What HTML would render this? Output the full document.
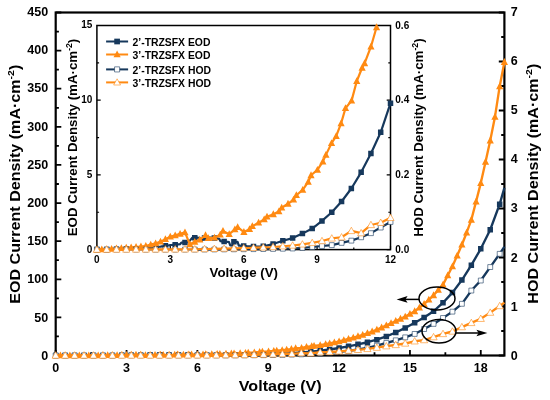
<!DOCTYPE html>
<html lang="en">
<head>
<meta charset="utf-8">
<title>Current density vs. voltage</title>
<style>html,body{margin:0;padding:0;background:#fff}svg{display:block}</style>
</head>
<body>
<svg width="550" height="400" viewBox="0 0 550 400" font-family="'Liberation Sans', Arial, sans-serif" font-weight="bold" fill="#000">
<rect width="550" height="400" fill="#fff"/>
<g id="main-axes" stroke="#000" fill="none">
<rect x="55.7" y="12.5" width="448.7" height="343" stroke-width="2.2"/>
<path d="M55.7 355.5v-5.6M91.12 355.5v-3.2M126.55 355.5v-5.6M161.97 355.5v-3.2M197.39 355.5v-5.6M232.82 355.5v-3.2M268.24 355.5v-5.6M303.67 355.5v-3.2M339.09 355.5v-5.6M374.51 355.5v-3.2M409.94 355.5v-5.6M445.36 355.5v-3.2M480.78 355.5v-5.6M55.7 355.5h5.6M55.7 336.44h3.2M55.7 317.39h5.6M55.7 298.33h3.2M55.7 279.28h5.6M55.7 260.22h3.2M55.7 241.17h5.6M55.7 222.11h3.2M55.7 203.06h5.6M55.7 184h3.2M55.7 164.94h5.6M55.7 145.89h3.2M55.7 126.83h5.6M55.7 107.78h3.2M55.7 88.72h5.6M55.7 69.67h3.2M55.7 50.61h5.6M55.7 31.56h3.2M55.7 12.5h5.6M504.4 355.5h-5.6M504.4 331h-3.2M504.4 306.5h-5.6M504.4 282h-3.2M504.4 257.5h-5.6M504.4 233h-3.2M504.4 208.5h-5.6M504.4 184h-3.2M504.4 159.5h-5.6M504.4 135h-3.2M504.4 110.5h-5.6M504.4 86h-3.2M504.4 61.5h-5.6M504.4 37h-3.2M504.4 12.5h-5.6" stroke-width="1.8"/>
</g>
<g id="main-data">
<polyline points="282.41,353.59 291.86,353.05 301.3,352.38 310.75,351.56 320.2,350.6 329.64,349.52 339.09,348.03 348.54,346.35 357.98,344.37 367.43,342.24 376.87,339.65 386.32,336.44 395.77,332.48 405.21,327.91 414.66,322.8 424.11,317.54 433.55,311.29 443,302.68 452.45,292.62 461.89,280.04 471.34,265.18 480.78,248.79 490.23,229.73 499.68,204.2 504.4,187.81" fill="none" stroke="#16385c" stroke-width="2.35" stroke-linejoin="round"/>
<path d="M52.95 352.75h5.5v5.5h-5.5zM62.4 352.74h5.5v5.5h-5.5zM71.84 352.74h5.5v5.5h-5.5zM81.29 352.73h5.5v5.5h-5.5zM90.74 352.71h5.5v5.5h-5.5zM100.18 352.69h5.5v5.5h-5.5zM109.63 352.63h5.5v5.5h-5.5zM119.07 352.56h5.5v5.5h-5.5zM128.52 352.5h5.5v5.5h-5.5zM137.97 352.39h5.5v5.5h-5.5zM147.41 352.14h5.5v5.5h-5.5zM156.86 352.15h5.5v5.5h-5.5zM166.31 352.16h5.5v5.5h-5.5zM175.75 352.33h5.5v5.5h-5.5zM185.2 352.35h5.5v5.5h-5.5zM194.64 352.57h5.5v5.5h-5.5zM204.09 352.6h5.5v5.5h-5.5zM213.54 352.58h5.5v5.5h-5.5zM222.98 352.47h5.5v5.5h-5.5zM232.43 352.3h5.5v5.5h-5.5zM241.88 352.16h5.5v5.5h-5.5zM251.32 351.93h5.5v5.5h-5.5zM260.77 351.68h5.5v5.5h-5.5zM270.22 351.29h5.5v5.5h-5.5zM279.66 350.84h5.5v5.5h-5.5zM289.11 350.3h5.5v5.5h-5.5zM298.55 349.63h5.5v5.5h-5.5zM308 348.81h5.5v5.5h-5.5zM317.45 347.85h5.5v5.5h-5.5zM326.89 346.77h5.5v5.5h-5.5zM336.34 345.28h5.5v5.5h-5.5zM345.79 343.6h5.5v5.5h-5.5zM355.23 341.62h5.5v5.5h-5.5zM364.68 339.49h5.5v5.5h-5.5zM374.12 336.9h5.5v5.5h-5.5zM383.57 333.69h5.5v5.5h-5.5zM393.02 329.73h5.5v5.5h-5.5zM402.46 325.16h5.5v5.5h-5.5zM411.91 320.05h5.5v5.5h-5.5zM421.36 314.79h5.5v5.5h-5.5zM430.8 308.54h5.5v5.5h-5.5zM440.25 299.93h5.5v5.5h-5.5zM449.7 289.87h5.5v5.5h-5.5zM459.14 277.29h5.5v5.5h-5.5zM468.59 262.43h5.5v5.5h-5.5zM478.03 246.04h5.5v5.5h-5.5zM487.48 226.98h5.5v5.5h-5.5zM496.93 201.45h5.5v5.5h-5.5z" fill="#16385c" stroke="none"/>
<polyline points="55.7,355.5 60.42,355.49 65.15,355.48 69.87,355.46 74.59,355.44 79.32,355.42 84.04,355.41 88.76,355.39 93.49,355.37 98.21,355.34 102.93,355.32 107.65,355.25 112.38,355.18 117.1,355.1 121.82,354.97 126.55,354.84 131.27,354.78 135.99,354.7 140.72,354.62 145.44,355.23 150.16,355.1 155.02,354.99 160.55,354.77 163.24,354.91 169.21,354.89 174.71,354.74 177.4,354.55 183.4,354.71 188.87,354.47 191.57,354.36 197.59,354.6 203.02,354.46 205.73,354.3 211.78,354.13 217.18,353.96 219.89,353.82 225.97,353.7 231.34,353.55 234.06,353.37 240.16,353.16 245.49,352.95 248.22,352.73 254.35,352.45 259.65,352.04 262.38,351.71 268.54,351.44 273.8,351.01 276.74,350.67 282.18,350.07 286.66,349.71 291.39,349.06 295.64,348.29 301.54,347.9 306.5,346.91 311.7,346.22 314.06,346 320.2,345.15 325.63,344.16 329.64,343.48 334.37,342.52 339.09,341.4 343.81,340.18 348.54,338.96 353.26,337.66 357.98,336.29 362.71,334.92 367.43,333.24 372.15,331.57 376.87,329.66 381.6,327.53 386.32,325.39 391.04,323.2 395.77,321.01 400.49,318.82 405.21,316.63 409.94,313.96 414.66,311.29 419.38,307.67 424.11,304.05 428.83,299.67 433.55,295.28 438.28,289.95 443,284.61 447.72,275.47 452.45,266.32 457.17,255.61 461.89,244.7 466.61,232.7 471.34,219.78 476.06,201.67 480.78,183.11 485.51,161.9 490.23,140.55 494.95,116.92 499.68,86.44 504.4,62.04" fill="none" stroke="#ff8a12" stroke-width="2.35" stroke-linejoin="round"/>
<path d="M55.7 351.56L59.3 358.36L52.1 358.36zM60.42 351.55L64.02 358.35L56.82 358.35zM65.15 351.54L68.75 358.34L61.55 358.34zM69.87 351.52L73.47 358.32L66.27 358.32zM74.59 351.5L78.19 358.3L70.99 358.3zM79.32 351.48L82.92 358.28L75.72 358.28zM84.04 351.46L87.64 358.26L80.44 358.26zM88.76 351.44L92.36 358.24L85.16 358.24zM93.49 351.43L97.09 358.23L89.89 358.23zM98.21 351.4L101.81 358.2L94.61 358.2zM102.93 351.37L106.53 358.17L99.33 358.17zM107.65 351.3L111.25 358.1L104.05 358.1zM112.38 351.24L115.98 358.04L108.78 358.04zM117.1 351.15L120.7 357.95L113.5 357.95zM121.82 351.02L125.42 357.82L118.22 357.82zM126.55 350.9L130.15 357.7L122.95 357.7zM131.27 350.83L134.87 357.63L127.67 357.63zM135.99 350.76L139.59 357.56L132.39 357.56zM140.72 350.68L144.32 357.48L137.12 357.48zM145.44 351.29L149.04 358.09L141.84 358.09zM150.16 351.16L153.76 357.96L146.56 357.96zM155.02 351.05L158.62 357.85L151.42 357.85zM160.55 350.82L164.15 357.62L156.95 357.62zM163.24 350.97L166.84 357.77L159.64 357.77zM169.21 350.95L172.81 357.75L165.61 357.75zM174.71 350.79L178.31 357.59L171.11 357.59zM177.4 350.6L181 357.4L173.8 357.4zM183.4 350.77L187 357.57L179.8 357.57zM188.87 350.53L192.47 357.33L185.27 357.33zM191.57 350.41L195.17 357.21L187.97 357.21zM197.59 350.66L201.19 357.46L193.99 357.46zM203.02 350.51L206.62 357.31L199.42 357.31zM205.73 350.36L209.33 357.16L202.13 357.16zM211.78 350.19L215.38 356.99L208.18 356.99zM217.18 350.02L220.78 356.82L213.58 356.82zM219.89 349.88L223.49 356.68L216.29 356.68zM225.97 349.75L229.57 356.55L222.37 356.55zM231.34 349.61L234.94 356.41L227.74 356.41zM234.06 349.42L237.66 356.22L230.46 356.22zM240.16 349.22L243.76 356.02L236.56 356.02zM245.49 349.01L249.09 355.81L241.89 355.81zM248.22 348.78L251.82 355.58L244.62 355.58zM254.35 348.51L257.95 355.31L250.75 355.31zM259.65 348.1L263.25 354.9L256.05 354.9zM262.38 347.76L265.98 354.56L258.78 354.56zM268.54 347.49L272.14 354.29L264.94 354.29zM273.8 347.07L277.4 353.87L270.2 353.87zM276.74 346.72L280.34 353.52L273.14 353.52zM282.18 346.13L285.78 352.93L278.58 352.93zM286.66 345.77L290.26 352.57L283.06 352.57zM291.39 345.12L294.99 351.92L287.79 351.92zM295.64 344.35L299.24 351.15L292.04 351.15zM301.54 343.96L305.14 350.76L297.94 350.76zM306.5 342.97L310.1 349.77L302.9 349.77zM311.7 342.28L315.3 349.08L308.1 349.08zM314.06 342.05L317.66 348.85L310.46 348.85zM320.2 341.21L323.8 348.01L316.6 348.01zM325.63 340.21L329.23 347.01L322.03 347.01zM329.64 339.53L333.24 346.33L326.04 346.33zM334.37 338.57L337.97 345.37L330.77 345.37zM339.09 337.45L342.69 344.25L335.49 344.25zM343.81 336.24L347.41 343.04L340.21 343.04zM348.54 335.02L352.14 341.82L344.94 341.82zM353.26 333.72L356.86 340.52L349.66 340.52zM357.98 332.35L361.58 339.15L354.38 339.15zM362.71 330.98L366.31 337.78L359.11 337.78zM367.43 329.3L371.03 336.1L363.83 336.1zM372.15 327.62L375.75 334.42L368.55 334.42zM376.87 325.72L380.47 332.52L373.27 332.52zM381.6 323.58L385.2 330.38L378 330.38zM386.32 321.45L389.92 328.25L382.72 328.25zM391.04 319.26L394.64 326.06L387.44 326.06zM395.77 317.07L399.37 323.87L392.17 323.87zM400.49 314.87L404.09 321.67L396.89 321.67zM405.21 312.68L408.81 319.48L401.61 319.48zM409.94 310.01L413.54 316.81L406.34 316.81zM414.66 307.35L418.26 314.15L411.06 314.15zM419.38 303.73L422.98 310.53L415.78 310.53zM424.11 300.11L427.71 306.91L420.51 306.91zM428.83 295.72L432.43 302.52L425.23 302.52zM433.55 291.34L437.15 298.14L429.95 298.14zM438.28 286L441.88 292.8L434.68 292.8zM443 280.67L446.6 287.47L439.4 287.47zM447.72 271.52L451.32 278.32L444.12 278.32zM452.45 262.38L456.05 269.18L448.85 269.18zM457.17 251.66L460.77 258.46L453.57 258.46zM461.89 240.76L465.49 247.56L458.29 247.56zM466.61 228.75L470.21 235.55L463.01 235.55zM471.34 215.83L474.94 222.63L467.74 222.63zM476.06 197.73L479.66 204.53L472.46 204.53zM480.78 179.16L484.38 185.96L477.18 185.96zM485.51 157.95L489.11 164.75L481.91 164.75zM490.23 136.61L493.83 143.41L486.63 143.41zM494.95 112.98L498.55 119.78L491.35 119.78zM499.68 82.49L503.28 89.29L496.08 89.29zM504.4 58.1L508 64.9L500.8 64.9z" fill="#ff8a12" stroke="none"/>
<polyline points="244.63,355.35 254.07,355.27 263.52,355.16 272.97,355.03 282.41,354.91 291.86,354.62 301.3,354.32 310.75,353.88 320.2,353.34 329.64,352.61 339.09,351.87 348.54,350.85 357.98,349.52 367.43,347.9 376.87,345.7 386.32,343 395.77,340.31 405.21,337.37 414.66,333.94 424.11,329.04 433.55,323.89 443,318.01 452.45,311.64 461.89,303.81 471.34,290.57 480.78,280.53 490.23,267.06 499.68,253.82 504.4,246.72" fill="none" stroke="#16385c" stroke-width="2.35" stroke-linejoin="round"/>
<path d="M53.25 353.05h4.9v4.9h-4.9zM62.7 353.05h4.9v4.9h-4.9zM72.14 353.05h4.9v4.9h-4.9zM81.59 353.05h4.9v4.9h-4.9zM91.04 353.05h4.9v4.9h-4.9zM100.48 353.05h4.9v4.9h-4.9zM109.93 353.05h4.9v4.9h-4.9zM119.37 353.05h4.9v4.9h-4.9zM128.82 353.04h4.9v4.9h-4.9zM138.27 353.04h4.9v4.9h-4.9zM147.71 353.04h4.9v4.9h-4.9zM157.16 353.04h4.9v4.9h-4.9zM166.61 353.03h4.9v4.9h-4.9zM176.05 353.02h4.9v4.9h-4.9zM185.5 353.01h4.9v4.9h-4.9zM194.94 353h4.9v4.9h-4.9zM204.39 352.99h4.9v4.9h-4.9zM213.84 352.98h4.9v4.9h-4.9zM223.28 352.96h4.9v4.9h-4.9zM232.73 352.93h4.9v4.9h-4.9zM242.18 352.9h4.9v4.9h-4.9zM251.62 352.82h4.9v4.9h-4.9zM261.07 352.71h4.9v4.9h-4.9zM270.52 352.58h4.9v4.9h-4.9zM279.96 352.46h4.9v4.9h-4.9zM289.41 352.17h4.9v4.9h-4.9zM298.85 351.87h4.9v4.9h-4.9zM308.3 351.43h4.9v4.9h-4.9zM317.75 350.89h4.9v4.9h-4.9zM327.19 350.16h4.9v4.9h-4.9zM336.64 349.42h4.9v4.9h-4.9zM346.09 348.4h4.9v4.9h-4.9zM355.53 347.07h4.9v4.9h-4.9zM364.98 345.45h4.9v4.9h-4.9zM374.42 343.25h4.9v4.9h-4.9zM383.87 340.56h4.9v4.9h-4.9zM393.32 337.86h4.9v4.9h-4.9zM402.76 334.92h4.9v4.9h-4.9zM412.21 331.49h4.9v4.9h-4.9zM421.66 326.59h4.9v4.9h-4.9zM431.1 321.44h4.9v4.9h-4.9zM440.55 315.56h4.9v4.9h-4.9zM450 309.19h4.9v4.9h-4.9zM459.44 301.36h4.9v4.9h-4.9zM468.89 288.12h4.9v4.9h-4.9zM478.33 278.08h4.9v4.9h-4.9zM487.78 264.61h4.9v4.9h-4.9zM497.23 251.38h4.9v4.9h-4.9z" fill="#fff" stroke="#16385c" stroke-width="0.6"/>
<polyline points="55.7,355.5 65.15,355.5 74.59,355.49 84.04,355.49 93.49,355.48 102.93,355.48 112.38,355.47 121.82,355.47 131.27,355.46 140.72,355.46 150.16,355.45 159.61,355.42 169.06,355.39 178.5,355.36 187.95,355.33 197.39,355.3 206.84,355.25 216.29,355.21 225.73,355.16 235.18,355.06 244.63,354.96 254.07,354.81 263.52,354.62 272.97,354.37 282.41,354.03 291.86,353.88 301.3,353.05 310.75,353.34 320.2,352.27 329.64,351.97 339.09,351.33 348.54,350.6 357.98,349.87 367.43,348.88 376.87,347.66 386.32,346.19 395.77,344.96 405.21,343.5 414.66,341.29 424.11,340.06 433.55,337.12 443,333.94 452.45,331.49 461.89,327.08 471.34,322.92 480.78,318.75 490.23,312.62 499.68,306.01 504.4,302.58" fill="none" stroke="#ff8a12" stroke-width="2.35" stroke-linejoin="round"/>
<path d="M55.7 351.79L59.3 358.19L52.1 358.19zM65.15 351.78L68.75 358.18L61.55 358.18zM74.59 351.78L78.19 358.18L70.99 358.18zM84.04 351.77L87.64 358.17L80.44 358.17zM93.49 351.77L97.09 358.17L89.89 358.17zM102.93 351.76L106.53 358.16L99.33 358.16zM112.38 351.76L115.98 358.16L108.78 358.16zM121.82 351.75L125.42 358.15L118.22 358.15zM131.27 351.75L134.87 358.15L127.67 358.15zM140.72 351.74L144.32 358.14L137.12 358.14zM150.16 351.74L153.76 358.14L146.56 358.14zM159.61 351.71L163.21 358.11L156.01 358.11zM169.06 351.68L172.66 358.08L165.46 358.08zM178.5 351.65L182.1 358.05L174.9 358.05zM187.95 351.62L191.55 358.02L184.35 358.02zM197.39 351.59L200.99 357.99L193.79 357.99zM206.84 351.54L210.44 357.94L203.24 357.94zM216.29 351.49L219.89 357.89L212.69 357.89zM225.73 351.44L229.33 357.84L222.13 357.84zM235.18 351.35L238.78 357.75L231.58 357.75zM244.63 351.25L248.23 357.65L241.03 357.65zM254.07 351.1L257.67 357.5L250.47 357.5zM263.52 350.91L267.12 357.31L259.92 357.31zM272.97 350.66L276.57 357.06L269.37 357.06zM282.41 350.32L286.01 356.72L278.81 356.72zM291.86 350.17L295.46 356.57L288.26 356.57zM301.3 349.34L304.9 355.74L297.7 355.74zM310.75 349.63L314.35 356.03L307.15 356.03zM320.2 348.55L323.8 354.95L316.6 354.95zM329.64 348.26L333.24 354.66L326.04 354.66zM339.09 347.62L342.69 354.02L335.49 354.02zM348.54 346.89L352.14 353.29L344.94 353.29zM357.98 346.15L361.58 352.55L354.38 352.55zM367.43 345.17L371.03 351.57L363.83 351.57zM376.87 343.95L380.47 350.35L373.27 350.35zM386.32 342.48L389.92 348.88L382.72 348.88zM395.77 341.25L399.37 347.65L392.17 347.65zM405.21 339.78L408.81 346.18L401.61 346.18zM414.66 337.58L418.26 343.98L411.06 343.98zM424.11 336.35L427.71 342.75L420.51 342.75zM433.55 333.41L437.15 339.81L429.95 339.81zM443 330.23L446.6 336.63L439.4 336.63zM452.45 327.78L456.05 334.18L448.85 334.18zM461.89 323.37L465.49 329.77L458.29 329.77zM471.34 319.2L474.94 325.6L467.74 325.6zM480.78 315.04L484.38 321.44L477.18 321.44zM490.23 308.91L493.83 315.31L486.63 315.31zM499.68 302.3L503.28 308.7L496.08 308.7z" fill="#fff" stroke="#ff8a12" stroke-width="0.6" stroke-linejoin="miter"/>
</g>
<g id="main-labels" font-size="12.5">
<text x="55.7" y="371.9" text-anchor="middle">0</text>
<text x="126.55" y="371.9" text-anchor="middle">3</text>
<text x="197.39" y="371.9" text-anchor="middle">6</text>
<text x="268.24" y="371.9" text-anchor="middle">9</text>
<text x="339.09" y="371.9" text-anchor="middle">12</text>
<text x="409.94" y="371.9" text-anchor="middle">15</text>
<text x="480.78" y="371.9" text-anchor="middle">18</text>
<text x="48.2" y="359.9" text-anchor="end">0</text>
<text x="48.2" y="321.67" text-anchor="end">50</text>
<text x="48.2" y="283.43" text-anchor="end">100</text>
<text x="48.2" y="245.2" text-anchor="end">150</text>
<text x="48.2" y="206.97" text-anchor="end">200</text>
<text x="48.2" y="168.73" text-anchor="end">250</text>
<text x="48.2" y="130.5" text-anchor="end">300</text>
<text x="48.2" y="92.27" text-anchor="end">350</text>
<text x="48.2" y="54.03" text-anchor="end">400</text>
<text x="48.2" y="15.8" text-anchor="end">450</text>
<text x="510.8" y="359.9">0</text>
<text x="510.8" y="310.76">1</text>
<text x="510.8" y="261.61">2</text>
<text x="510.8" y="212.47">3</text>
<text x="510.8" y="163.33">4</text>
<text x="510.8" y="114.19">5</text>
<text x="510.8" y="65.04">6</text>
<text x="510.8" y="15.9">7</text>
</g>
<g id="main-titles" font-size="16.1">
<text transform="translate(280.2 390.5) scale(1 0.95)" text-anchor="middle">Voltage (V)</text>
<text transform="translate(19.6 184.2) rotate(-90) scale(1 0.95)" text-anchor="middle">EOD Current Density (mA·cm<tspan font-size="10.5" dy="-6.3">-2</tspan><tspan dy="6.3">)</tspan></text>
<text transform="translate(538 183.7) rotate(-90) scale(1 0.95)" text-anchor="middle">HOD Current Density (mA·cm<tspan font-size="10.5" dy="-6.3">-2</tspan><tspan dy="6.3">)</tspan></text>
</g>
<rect x="96.9" y="25.5" width="293.6" height="224.1" fill="#fff"/>
<g id="inset-axes" stroke="#000" fill="none">
<rect x="96.9" y="25.5" width="293.6" height="224.1" stroke-width="1.5"/>
<path d="M96.9 249.6v-3.8M133.6 249.6v-2.2M170.3 249.6v-3.8M207 249.6v-2.2M243.7 249.6v-3.8M280.4 249.6v-2.2M317.1 249.6v-3.8M353.8 249.6v-2.2M390.5 249.6v-3.8M96.9 249.6h3.8M96.9 212.25h2.2M96.9 174.9h3.8M96.9 137.55h2.2M96.9 100.2h3.8M96.9 62.85h2.2M96.9 25.5h3.8M390.5 249.6h-3.8M390.5 212.25h-2.2M390.5 174.9h-3.8M390.5 137.55h-2.2M390.5 100.2h-3.8M390.5 62.85h-2.2M390.5 25.5h-3.8" stroke-width="1.2"/>
</g>
<g id="inset-data">
<polyline points="128.71,249.03 129.93,248.99 131.15,248.94 132.38,248.9 133.6,248.85 134.82,248.81 136.05,248.76 137.27,248.72 138.49,248.67 139.72,248.63 140.94,248.58 142.16,248.54 143.39,248.49 144.61,248.45 145.83,248.4 147.06,248.26 148.28,248.11 149.5,247.96 150.73,247.81 151.95,247.66 153.17,247.51 154.4,247.36 155.62,247.21 156.84,247.06 158.07,246.91 159.29,246.76 160.51,246.61 161.74,246.43 162.96,246.24 164.18,246.05 165.41,245.86 166.63,245.68 167.85,245.49 169.08,245.3 170.3,245.12 171.52,245.01 172.75,244.89 173.97,244.78 175.19,244.67 176.42,244.56 177.64,244.45 178.86,244.33 180.09,244.22 180.09,244.22 181.31,242.58 182.53,242.58 183.76,242.58 184.98,242.58 186.2,242.09 187.43,241.61 188.65,241.12 189.87,240.64 189.87,240.64 191.1,239.14 192.32,237.65 192.32,237.65 193.54,237.65 194.77,237.65 195.99,237.65 197.21,237.65 197.21,237.65 198.44,237.8 199.66,237.95 200.88,239.29 202.11,240.64 203.33,237.95 203.33,237.95 204.55,237.89 205.78,237.83 207,237.77 208.22,237.71 209.45,237.65 209.45,237.65 210.67,237.72 211.89,237.8 213.12,237.87 214.34,237.95 214.34,237.95 215.56,238.17 216.79,238.4 218.01,238.62 219.23,238.84 220.46,241.23 220.46,241.23 221.68,241.28 222.9,241.33 224.13,241.38 225.35,241.57 226.57,241.76 227.8,241.94 229.02,242.13 230.24,245.42 231.47,245.42 232.69,245.42 232.69,245.42 233.91,241.83 233.91,241.83 235.14,241.83 236.36,241.83 237.58,241.83 238.81,245.57 238.81,245.57 240.03,245.68 241.25,245.79 242.48,245.9 243.7,246.01 244.92,246.09 246.15,246.16 247.37,246.24 248.59,246.31 249.82,246.39 251.04,246.46 252.26,246.54 253.49,246.61 263.27,246.31 273.06,244.07 282.85,240.79 292.63,238.1 302.42,233.61 312.21,228.53 321.99,220.92 331.78,212.25 341.57,201.49 351.35,188.5 361.14,172.36 370.93,153.54 380.71,132.32 390.5,103.19" fill="none" stroke="#16385c" stroke-width="2.2" stroke-linejoin="round"/>
<path d="M94.15 246.85h5.5v5.5h-5.5zM103.94 246.73h5.5v5.5h-5.5zM113.72 246.61h5.5v5.5h-5.5zM123.51 246.37h5.5v5.5h-5.5zM133.3 246.01h5.5v5.5h-5.5zM143.08 245.65h5.5v5.5h-5.5zM152.87 244.46h5.5v5.5h-5.5zM162.66 243.12h5.5v5.5h-5.5zM172.44 241.92h5.5v5.5h-5.5zM182.23 239.83h5.5v5.5h-5.5zM192.02 234.9h5.5v5.5h-5.5zM201.8 235.14h5.5v5.5h-5.5zM211.59 235.2h5.5v5.5h-5.5zM221.38 238.63h5.5v5.5h-5.5zM231.16 239.08h5.5v5.5h-5.5zM240.95 243.26h5.5v5.5h-5.5zM250.74 243.86h5.5v5.5h-5.5zM260.52 243.56h5.5v5.5h-5.5zM270.31 241.32h5.5v5.5h-5.5zM280.1 238.04h5.5v5.5h-5.5zM289.88 235.35h5.5v5.5h-5.5zM299.67 230.86h5.5v5.5h-5.5zM309.46 225.78h5.5v5.5h-5.5zM319.24 218.17h5.5v5.5h-5.5zM329.03 209.5h5.5v5.5h-5.5zM338.82 198.74h5.5v5.5h-5.5zM348.6 185.75h5.5v5.5h-5.5zM358.39 169.61h5.5v5.5h-5.5zM368.18 150.79h5.5v5.5h-5.5zM377.96 129.57h5.5v5.5h-5.5zM387.75 100.44h5.5v5.5h-5.5z" fill="#16385c" stroke="none"/>
<polyline points="96.9,249.6 101.79,249.45 106.69,249.3 111.58,248.9 116.47,248.5 121.37,248.11 126.26,247.76 131.15,247.41 136.05,247.06 140.94,246.54 145.83,246.01 150.73,244.67 155.62,243.33 160.51,241.68 165.41,239.14 170.3,236.75 175.19,235.41 180.09,233.91 184.98,232.42 189.87,244.3 194.77,241.83 199.8,239.59 205.53,235.26 208.32,238.13 214.5,237.65 220.2,234.66 222.99,230.92 229.2,234.18 234.86,229.43 237.66,227.19 243.9,232.05 249.53,229.18 252.34,226.11 258.6,222.75 264.2,219.45 267.01,216.73 273.31,214.27 278.86,211.45 281.68,207.77 288.01,203.78 293.53,199.6 296.36,195.22 302.71,189.91 308.2,181.83 311.03,175.27 317.41,169.97 322.86,161.59 325.91,154.88 331.54,143.23 336.18,136.21 341.08,123.36 345.48,108.27 351.6,100.65 356.74,81.23 362.12,67.78 364.57,63.3 370.93,46.71 376.55,27.29" fill="none" stroke="#ff8a12" stroke-width="2.2" stroke-linejoin="round"/>
<path d="M96.9 245.66L100.5 252.46L93.3 252.46zM101.79 245.51L105.39 252.31L98.19 252.31zM106.69 245.36L110.29 252.16L103.09 252.16zM111.58 244.96L115.18 251.76L107.98 251.76zM116.47 244.56L120.07 251.36L112.87 251.36zM121.37 244.16L124.97 250.96L117.77 250.96zM126.26 243.81L129.86 250.61L122.66 250.61zM131.15 243.46L134.75 250.26L127.55 250.26zM136.05 243.12L139.65 249.92L132.45 249.92zM140.94 242.59L144.54 249.39L137.34 249.39zM145.83 242.07L149.43 248.87L142.23 248.87zM150.73 240.73L154.33 247.53L147.13 247.53zM155.62 239.38L159.22 246.18L152.02 246.18zM160.51 237.74L164.11 244.54L156.91 244.54zM165.41 235.2L169.01 242L161.81 242zM170.3 232.81L173.9 239.61L166.7 239.61zM175.19 231.46L178.79 238.26L171.59 238.26zM180.09 229.97L183.69 236.77L176.49 236.77zM184.98 228.47L188.58 235.27L181.38 235.27zM189.87 240.36L193.47 247.16L186.27 247.16zM194.77 237.89L198.37 244.69L191.17 244.69zM199.8 235.65L203.4 242.45L196.2 242.45zM205.53 231.31L209.13 238.11L201.93 238.11zM208.32 234.18L211.92 240.98L204.72 240.98zM214.5 233.7L218.1 240.5L210.9 240.5zM220.2 230.72L223.8 237.52L216.6 237.52zM222.99 226.98L226.59 233.78L219.39 233.78zM229.2 230.24L232.8 237.04L225.6 237.04zM234.86 225.49L238.46 232.29L231.26 232.29zM237.66 223.25L241.26 230.05L234.06 230.05zM243.9 228.1L247.5 234.9L240.3 234.9zM249.53 225.24L253.13 232.04L245.93 232.04zM252.34 222.16L255.94 228.96L248.74 228.96zM258.6 218.8L262.2 225.6L255 225.6zM264.2 215.5L267.8 222.3L260.6 222.3zM267.01 212.79L270.61 219.59L263.41 219.59zM273.31 210.33L276.91 217.13L269.71 217.13zM278.86 207.5L282.46 214.3L275.26 214.3zM281.68 203.82L285.28 210.62L278.08 210.62zM288.01 199.84L291.61 206.64L284.41 206.64zM293.53 195.66L297.13 202.46L289.93 202.46zM296.36 191.27L299.96 198.07L292.76 198.07zM302.71 185.97L306.31 192.77L299.11 192.77zM308.2 177.88L311.8 184.68L304.6 184.68zM311.03 171.33L314.63 178.13L307.43 178.13zM317.41 166.03L321.01 172.83L313.81 172.83zM322.86 157.64L326.46 164.44L319.26 164.44zM325.91 150.94L329.51 157.74L322.31 157.74zM331.54 139.28L335.14 146.08L327.94 146.08zM336.18 132.26L339.78 139.06L332.58 139.06zM341.08 119.41L344.68 126.21L337.48 126.21zM345.48 104.32L349.08 111.12L341.88 111.12zM351.6 96.7L355.2 103.5L348 103.5zM356.74 77.28L360.34 84.08L353.14 84.08zM362.12 63.84L365.72 70.64L358.52 70.64zM364.57 59.35L368.17 66.15L360.97 66.15zM370.93 42.77L374.53 49.57L367.33 49.57zM376.55 23.35L380.15 30.15L372.95 30.15z" fill="#ff8a12" stroke="none"/>
<polyline points="194.77,249.53 204.55,249.5 214.34,249.45 224.13,249.39 233.91,249.31 243.7,249.23 253.49,249.14 263.27,249.03 273.06,248.9 282.85,248.72 292.63,248.48 302.42,247.88 312.21,246.99 321.99,246.01 331.78,245.12 341.57,242.88 351.35,240.64 361.14,237.27 370.93,233.17 380.71,227.56 390.5,221.96" fill="none" stroke="#16385c" stroke-width="2.2" stroke-linejoin="round"/>
<path d="M94.45 247.15h4.9v4.9h-4.9zM104.24 247.15h4.9v4.9h-4.9zM114.02 247.15h4.9v4.9h-4.9zM123.81 247.14h4.9v4.9h-4.9zM133.6 247.14h4.9v4.9h-4.9zM143.38 247.13h4.9v4.9h-4.9zM153.17 247.12h4.9v4.9h-4.9zM162.96 247.11h4.9v4.9h-4.9zM172.74 247.1h4.9v4.9h-4.9zM182.53 247.09h4.9v4.9h-4.9zM192.32 247.08h4.9v4.9h-4.9zM202.1 247.05h4.9v4.9h-4.9zM211.89 247h4.9v4.9h-4.9zM221.68 246.94h4.9v4.9h-4.9zM231.46 246.86h4.9v4.9h-4.9zM241.25 246.78h4.9v4.9h-4.9zM251.04 246.69h4.9v4.9h-4.9zM260.82 246.58h4.9v4.9h-4.9zM270.61 246.45h4.9v4.9h-4.9zM280.4 246.27h4.9v4.9h-4.9zM290.18 246.03h4.9v4.9h-4.9zM299.97 245.43h4.9v4.9h-4.9zM309.76 244.54h4.9v4.9h-4.9zM319.54 243.56h4.9v4.9h-4.9zM329.33 242.67h4.9v4.9h-4.9zM339.12 240.43h4.9v4.9h-4.9zM348.9 238.19h4.9v4.9h-4.9zM358.69 234.82h4.9v4.9h-4.9zM368.48 230.72h4.9v4.9h-4.9zM378.26 225.11h4.9v4.9h-4.9zM388.05 219.51h4.9v4.9h-4.9z" fill="#fff" stroke="#16385c" stroke-width="0.6"/>
<polyline points="96.9,249.6 106.69,249.56 116.47,249.53 126.26,249.49 136.05,249.45 145.83,249.41 155.62,249.38 165.41,249.34 175.19,249.3 184.98,249.26 194.77,249.23 204.55,249 214.34,248.78 224.13,248.55 233.91,248.33 243.7,248.11 253.49,247.73 263.27,247.36 273.06,246.99 282.85,246.24 292.63,245.49 302.42,244.37 312.21,242.88 321.99,241.01 331.78,238.39 341.57,237.27 351.35,230.92 361.14,233.17 370.93,224.95 380.71,222.71 390.5,217.85" fill="none" stroke="#ff8a12" stroke-width="2.2" stroke-linejoin="round"/>
<path d="M96.9 245.89L100.5 252.29L93.3 252.29zM106.69 245.85L110.29 252.25L103.09 252.25zM116.47 245.81L120.07 252.21L112.87 252.21zM126.26 245.78L129.86 252.18L122.66 252.18zM136.05 245.74L139.65 252.14L132.45 252.14zM145.83 245.7L149.43 252.1L142.23 252.1zM155.62 245.66L159.22 252.06L152.02 252.06zM165.41 245.63L169.01 252.03L161.81 252.03zM175.19 245.59L178.79 251.99L171.59 251.99zM184.98 245.55L188.58 251.95L181.38 251.95zM194.77 245.51L198.37 251.91L191.17 251.91zM204.55 245.29L208.15 251.69L200.95 251.69zM214.34 245.07L217.94 251.47L210.74 251.47zM224.13 244.84L227.73 251.24L220.53 251.24zM233.91 244.62L237.51 251.02L230.31 251.02zM243.7 244.39L247.3 250.79L240.1 250.79zM253.49 244.02L257.09 250.42L249.89 250.42zM263.27 243.65L266.87 250.05L259.67 250.05zM273.06 243.27L276.66 249.67L269.46 249.67zM282.85 242.53L286.45 248.93L279.25 248.93zM292.63 241.78L296.23 248.18L289.03 248.18zM302.42 240.66L306.02 247.06L298.82 247.06zM312.21 239.17L315.81 245.56L308.61 245.56zM321.99 237.3L325.59 243.7L318.39 243.7zM331.78 234.68L335.38 241.08L328.18 241.08zM341.57 233.56L345.17 239.96L337.97 239.96zM351.35 227.21L354.95 233.61L347.75 233.61zM361.14 229.45L364.74 235.85L357.54 235.85zM370.93 221.24L374.53 227.64L367.33 227.64zM380.71 219L384.31 225.4L377.11 225.4zM390.5 214.14L394.1 220.54L386.9 220.54z" fill="#fff" stroke="#ff8a12" stroke-width="0.6" stroke-linejoin="miter"/>
</g>
<g id="inset-labels" font-size="10">
<text x="96.9" y="263" text-anchor="middle">0</text>
<text x="170.3" y="263" text-anchor="middle">3</text>
<text x="243.7" y="263" text-anchor="middle">6</text>
<text x="317.1" y="263" text-anchor="middle">9</text>
<text x="390.5" y="263" text-anchor="middle">12</text>
<text x="92.3" y="252.7" text-anchor="end">0</text>
<text x="92.3" y="177.87" text-anchor="end">5</text>
<text x="92.3" y="103.03" text-anchor="end">10</text>
<text x="92.3" y="28.2" text-anchor="end">15</text>
<text x="395.3" y="253">0.0</text>
<text x="395.3" y="178.17">0.2</text>
<text x="395.3" y="103.33">0.4</text>
<text x="395.3" y="28.5">0.6</text>
</g>
<g id="inset-titles" font-size="13.3">
<text x="243.8" y="276.6" text-anchor="middle">Voltage (V)</text>
<text transform="translate(77 137.5) rotate(-90) scale(1 0.95)" text-anchor="middle">EOD Current Density (mA·cm<tspan font-size="8.7" dy="-5.2">-2</tspan><tspan dy="5.2">)</tspan></text>
<text transform="translate(423.4 137.6) rotate(-90) scale(1 0.95)" text-anchor="middle">HOD Current Density (mA·cm<tspan font-size="8.7" dy="-5.2">-2</tspan><tspan dy="5.2">)</tspan></text>
</g>
<g id="legend" font-size="10.4">
<path d="M106.1 41.5H128.1" stroke="#16385c" stroke-width="2" fill="none"/>
<path d="M114.25 38.65h5.7v5.7h-5.7z" fill="#16385c" stroke="none"/>
<text x="132.5" y="45.8">2’-TRZSFX EOD</text>
<path d="M106.1 54.5H128.1" stroke="#ff8a12" stroke-width="2" fill="none"/>
<path d="M117.1 50.56L120.7 57.36L113.5 57.36z" fill="#ff8a12" stroke="none"/>
<text x="132.5" y="58.8">3’-TRZSFX EOD</text>
<path d="M106.1 69.4H128.1" stroke="#16385c" stroke-width="2" fill="none"/>
<path d="M114.55 66.85h5.1v5.1h-5.1z" fill="#fff" stroke="#16385c" stroke-width="0.6"/>
<text x="132.5" y="73.7">2’-TRZSFX HOD</text>
<path d="M106.1 82.4H128.1" stroke="#ff8a12" stroke-width="2" fill="none"/>
<path d="M117.1 78.8L120.55 85L113.65 85z" fill="#fff" stroke="#ff8a12" stroke-width="0.6" stroke-linejoin="miter"/>
<text x="132.5" y="86.7">3’-TRZSFX HOD</text>
</g>
<g id="annot" stroke="#000" stroke-width="1.5" fill="none">
<ellipse cx="437" cy="298.5" rx="18" ry="11.5"/>
<ellipse cx="439" cy="331.2" rx="17" ry="11.8"/>
<path d="M419 299.4H404"/>
<path d="M456 333H480"/>
</g>
<path d="M396.6 299.4L407.6 296.1L405.4 299.4L407.6 302.7z" fill="#000"/>
<path d="M487.4 333L476.4 329.7L478.6 333L476.4 336.3z" fill="#000"/>
</svg>
</body>
</html>
